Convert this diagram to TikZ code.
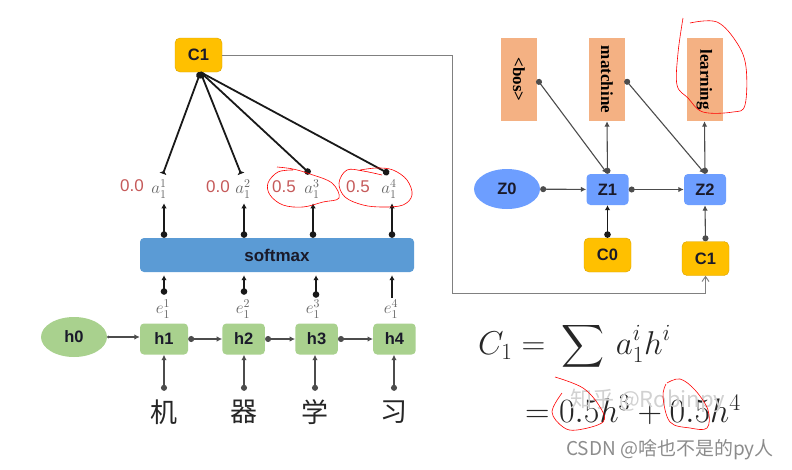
\RequirePackage{fix-cm}
\documentclass[tikz,border=0pt]{standalone}
\usepackage{amsmath}
\usepackage{fontspec}
\setmainfont{Liberation Sans}
\newfontfamily\wordfont{Liberation Serif}
\newfontfamily\cjkfont{Noto Sans CJK SC}
\usepackage{xcolor}
\usepackage{tikz}
\usetikzlibrary{positioning,shapes,arrows.meta}
\definecolor{hgreen}{HTML}{A9D18E}
\definecolor{softblue}{HTML}{5B9BD5}
\definecolor{cyellow}{HTML}{FFC000}
\definecolor{zblue}{HTML}{6D9EFF}
\definecolor{wordorange}{HTML}{F4B183}
\definecolor{scorered}{HTML}{C55A5A}
\definecolor{darktext}{HTML}{1A1A2A}
\definecolor{feedgray}{HTML}{808080}
\tikzstyle{hbox}=[rectangle, rounded corners=4pt, fill=hgreen, text=darktext, minimum width=42.5pt, minimum height=31pt, inner sep=0pt, font=\bfseries\fontsize{16.5}{16.5}\selectfont]
\tikzstyle{zbox}=[hbox, fill=zblue, minimum width=42pt]
\tikzstyle{cbox}=[hbox, rounded corners=5pt, fill=cyellow, draw=cyellow!85!black, minimum width=47pt, minimum height=34pt]
\tikzstyle{wordbox}=[rectangle, rotate=-90, fill=wordorange, text=black, minimum width=83pt, minimum height=36pt, inner sep=0pt, font=\wordfont\bfseries\fontsize{17}{17}\selectfont]
\tikzstyle{attn}=[text=black!60, inner sep=0pt, font=\fontsize{17}{17}\selectfont]
\tikzstyle{enc}=[text=black!60, inner sep=0pt, font=\fontsize{17}{17}\selectfont]
\tikzstyle{score}=[text=scorered, inner sep=0pt, font=\fontsize{17}{17}\selectfont]
\tikzstyle{hanzi}=[text=black!85, minimum height=42pt, inner sep=0pt, font=\cjkfont\fontsize{27}{27}\selectfont]
\tikzstyle{ink}=[draw=red, line width=0.6pt, smooth, tension=0.6]
\tikzset{
    thick link/.style={line width=1.8pt, black!90, {Circle[length=6.5pt]}-{Latex[length=5pt,width=5.5pt]}},
    thin link/.style={line width=1.1pt, black!70, {Circle[length=6pt]}-{Latex[length=5.5pt,width=5.5pt]}},
}

\begin{document}
\begin{tikzpicture}[x=1pt,y=-1pt]
    \useasboundingbox (0,0) rectangle (792,469);

    % encoder
    \node(h0)[ellipse, fill=hgreen, text=darktext, minimum width=66pt, minimum height=40pt, inner sep=0pt, font=\bfseries\fontsize{16.5}{16.5}\selectfont] at (74,337) {h0};
    \node(h1)[hbox, minimum width=48pt] at (164,339) {h1};
    \node(h2)[hbox, right=34pt of h1] {h2};
    \node(h3)[hbox, right=30pt of h2] {h3};
    \node(h4)[hbox, right=35pt of h3] {h4};
    \node(softmax)[rectangle, rounded corners=4pt, fill=softblue, text=darktext, minimum width=274pt, minimum height=34pt, font=\bfseries\fontsize{17}{17}\selectfont] at (277,255) {softmax};
    \node(C1top)[cbox] at (198.5,55) {C1};

    \draw[thin link, {Circle[length=2.5pt]}-{Latex[length=5.5pt,width=5.5pt]}] (h0.east) -- (h0.east -| h1.west);
    \foreach \x [remember=\x as \lastx (initially 1)] in {2,3,4}{
        \draw[thin link] (h\lastx) -- (h\x);
    };

    % characters under the hidden states
    \foreach \i/\x/\t in {1/164/机,2/244/器,3/315/学,4/394/习}{
        \node(char\i)[hanzi] at (\x,412) {\t};
        \draw[thin link] (char\i.north) -- (char\i.north |- h\i.south);
    };

    % e labels and arrows to softmax
    \foreach \i/\x/\dx/\dy in {1/163/1/5,2/243/1/5,3/313/3/2}{
        \node(e\i)[enc] at (\x,309) {$e_1^{\i}$};
        \draw[thick link] ([xshift=\dx pt, yshift=\dy pt]e\i.north) -- ([xshift=\dx pt, yshift=-3pt]e\i.north |- softmax.south);
    };
    \node(e4)[enc] at (391,309) {$e_1^{4}$};
    \draw[line width=1.8pt, black!90, -{Latex[length=5pt,width=5.5pt]}] ([xshift=1pt, yshift=2pt]e4.north) -- ([xshift=1pt, yshift=-3pt]e4.north |- softmax.south);

    % attention weights
    \foreach \i/\x/\dx in {1/159/5,2/243/1,3/312/1,4/389/3}{
        \node(a\i)[attn] at (\x,189) {$a_1^{\i}$};
        \draw[thick link] ([xshift=\dx pt]a\i.south |- softmax.north) -- ([xshift=\dx pt, yshift=-5pt]a\i.south);
    };
    \node(score1)[score] at (132,186) {0.0};
    \node(score2)[score] at (218,187) {0.0};
    \node(score3)[score] at (284,187) {0.5};
    \node(score4)[score] at (358,187) {0.5};

    \coordinate (fan) at ([xshift=2pt]C1top.south);
    \draw[line width=1.8pt, black!90, {Circle[length=6.5pt]}-{Triangle[reversed,length=3pt,width=7pt]}] (fan) -- ([xshift=4pt, yshift=6pt]a1.north);
    \draw[line width=1.8pt, black!90, {Circle[length=6.5pt]}-{Triangle[reversed,length=3pt,width=7pt]}] (fan) -- ([xshift=-2pt, yshift=6pt]a2.north);
    \draw[line width=1.8pt, black!90, -{Circle[length=6.5pt]}] (fan) -- ([xshift=-2pt, yshift=6pt]a3.north);
    \draw[line width=1.8pt, black!90, -{Circle[length=6.5pt]}] (fan) -- ([yshift=6pt]a4.north);

    % decoder
    \node(bos)[wordbox] at (519,79.5) {<bos>};
    \node(matchine)[wordbox] at (607,79.5) {matchine};
    \node(learning)[wordbox] at (704.5,79.5) {learning};

    \node(Z0)[ellipse, fill=zblue, text=darktext, minimum width=66pt, minimum height=40pt, inner sep=0pt, font=\bfseries\fontsize{16.5}{16.5}\selectfont] at (507,189) {Z0};
    \node(Z1)[zbox] at (607.5,189.5) {Z1};
    \node(Z2)[zbox] at (705,189.5) {Z2};
    \node(C0)[cbox] at (607.5,255) {C0};
    \node(C1)[cbox] at (705.5,258.5) {C1};

    \draw[thin link] (Z0) -- (Z1);
    \draw[thin link] (Z1) -- (Z2);
    \draw[thin link] (Z1.north) -- (matchine.east);
    \draw[thin link] (Z2.north) -- (learning.east);
    \draw[thin link] (bos.north) -- (Z1.north);
    \draw[thin link] (matchine.north) -- (Z2.north);
    \draw[thick link] (C0.north) -- (Z1.south);
    \draw[thin link] (C1.north) -- (Z2.south);

    % context vector going across
    \coordinate (across) at (452,293);
    \draw[line width=1pt, feedgray, -{Straight Barb[length=5pt,width=7pt]}] (C1top.east) -| (across) -| (C1.south);

    % formula
    \node(sumLine)[anchor=west, inner sep=0pt, text=black!85, font=\fontsize{33}{33}\selectfont] at (478,346) {$\displaystyle C_1 = \mspace{4mu}\mathop{\vcenter{\hbox{\scalebox{1.2}{$\displaystyle\sum$}}}}\mspace{3mu} a_1^i h^i$};
    \node(valueLine)[anchor=west, inner sep=0pt, text=black!85, font=\fontsize{34}{34}\selectfont] at (525,410) {$= 0.5 h^3 + 0.5 h^4$};
    \node(ghostMark)[anchor=west, inner sep=0pt, text=black!18, font=\cjkfont\fontsize{22}{22}\selectfont] at (570,401) {知乎 @Robinpy};
    \node(csdnMark)[anchor=west, inner sep=0pt, text=black!45, font=\cjkfont\fontsize{19}{19}\selectfont] at (566,450) {CSDN @啥也不是的py人};

    % pen marks
    \draw[ink] plot coordinates {(277,167) (293,169) (310,174) (332,183) (339,198) (323,202) (303,207) (283,205) (270,195) (268,183) (278,172) (293,170)};
    \draw[ink] plot coordinates {(382,175) (363,171) (347,170) (339,183) (345,197) (363,205) (383,207) (403,205) (412,195) (407,180) (393,170) (377,168) (360,170)};
    \draw[ink] plot coordinates {(683,18) (678,53) (677,85) (688,98) (703,112) (733,112) (745,105) (746,67) (737,43) (717,22) (690,23)};
    \draw[ink] plot coordinates {(555,377) (583,388) (600,407) (603,422) (577,430) (563,427) (552,412) (562,393)};
    \draw[ink] plot coordinates {(666,384) (663,397) (670,422) (690,428) (707,428) (708,410) (695,390) (680,379) (667,383)};
\end{tikzpicture}
\end{document}
